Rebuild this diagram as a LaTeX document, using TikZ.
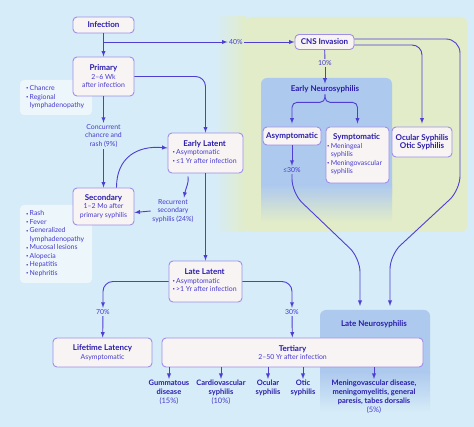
\documentclass[tikz,border=0pt]{standalone}
\usepackage{fontspec}
\setmainfont{Lato}
\definecolor{bgblue}{RGB}{214,236,248}
\definecolor{greenbg}{RGB}{226,236,200}
\definecolor{neuroblue}{RGB}{174,201,238}
\definecolor{boxline}{RGB}{158,142,232}
\definecolor{boxfill}{RGB}{248,244,244}
\definecolor{ttlcol}{RGB}{42,28,172}
\definecolor{txtcol}{RGB}{72,58,205}
\definecolor{linecol}{RGB}{78,62,210}
\newcommand{\itm}{\raisebox{0.25ex}{\scalebox{0.6}{\textbullet}}}
\newcommand{\ttl}[1]{{\fontsize{8}{9.5}\selectfont\bfseries\color{ttlcol}#1}}

\begin{document}
\begin{tikzpicture}[x=1pt, y=-1pt, font=\fontsize{6.9}{8.5}\selectfont, text=txtcol]
\tikzstyle{stage}=[rectangle, rounded corners=4pt, draw=boxline, fill=boxfill, line width=0.9pt, align=center, inner sep=1pt]
\tikzstyle{note}=[rectangle, rounded corners=4pt, fill=white, fill opacity=0.55, text opacity=1, align=left, inner sep=0pt]
\tikzstyle{pct}=[inner sep=1.5pt, align=center]
\tikzstyle{outcome}=[align=center, inner sep=1pt, font=\fontsize{7.5}{9}\selectfont\bfseries, text=ttlcol]
\tikzstyle{conn}=[->, >=latex, draw=linecol, line width=0.9pt]
\tikzstyle{link}=[draw=linecol, line width=0.9pt]

% Draw the background
\useasboundingbox (0,0) rectangle (474,427);
\fill[bgblue] (0,0) rectangle (474,427);
\fill[greenbg, rounded corners=6pt] (245,17) rectangle (467,232);
\shade[left color=bgblue, right color=greenbg] (215,17) rectangle (246,232);
\fill[neuroblue, rounded corners=6pt] (261,78) rectangle (392,200);
\shade[top color=neuroblue, bottom color=greenbg] (261,185) rectangle (392,222);
\fill[neuroblue, rounded corners=6pt] (320,310) rectangle (430,380);
\shade[top color=neuroblue, bottom color=bgblue] (320,372) rectangle (430,412);

% Draw the symptom notes
\node[note, minimum width=72pt, minimum height=35pt] (chancre) at (56,97.5) {
    \begin{tabular}{@{}l@{\,}l@{}}
    \itm & Chancre \\
    \itm & Regional \\
         & lymphadenopathy \\
    \end{tabular}
};
\node[note, minimum width=72pt, minimum height=78pt] (symptoms) at (56,244) {
    \begin{tabular}{@{}l@{\,}l@{}}
    \itm & Rash \\
    \itm & Fever \\
    \itm & Generalized \\
         & lymphadenopathy \\
    \itm & Mucosal lesions \\
    \itm & Alopecia \\
    \itm & Hepatitis \\
    \itm & Nephritis \\
    \end{tabular}
};

% Draw the early stages
\node[stage, minimum width=61pt, minimum height=16pt] (infection) at (103.5,25) {\ttl{Infection}};
\node[stage, minimum width=61pt, minimum height=39pt] (primary) at (103.5,76.5) {\ttl{Primary}\\2--6 Wk\\after infection};
\node[pct] (concurrent) at (103.5,136) {Concurrent\\chancre and\\rash (9\%)};
\node[stage, minimum width=61pt, minimum height=37pt] (secondary) at (103.5,206.5) {\ttl{Secondary}\\1--2 Mo after\\primary syphilis};
\node[stage, minimum width=75pt, minimum height=40pt] (elatent) at (205.5,153) {
    \begin{tabular}{@{}l@{\,}l@{}}
    \multicolumn{2}{c}{\ttl{Early Latent}} \\
    \itm & Asymptomatic \\
    \itm & ≤1 Yr after infection \\
    \end{tabular}
};
\node[pct] (recurrent) at (173,211) {Recurrent\\secondary\\syphilis (24\%)};
\node[stage, minimum width=73pt, minimum height=41pt] (llatent) at (205.5,281.5) {
    \begin{tabular}{@{}l@{\,}l@{}}
    \multicolumn{2}{c}{\ttl{Late Latent}} \\
    \itm & Asymptomatic \\
    \itm & >1 Yr after infection \\
    \end{tabular}
};
\node[pct] (pct70) at (103,312) {70\%};
\node[pct] (pct30) at (292,312) {30\%};
\node[stage, minimum width=99pt, minimum height=29pt] (lifetime) at (102.5,352.5) {\ttl{Lifetime Latency}\\Asymptomatic};
\node[stage, minimum width=261pt, minimum height=29pt] (tertiary) at (292.5,352.5) {\ttl{Tertiary}\\2--50 Yr after infection};

% Draw the CNS branch
\node[pct] (pct40) at (236,42) {40\%};
\node[stage, minimum width=59pt, minimum height=15pt] (cns) at (324.5,42) {\ttl{CNS Invasion}};
\node[pct] (pct10) at (325,63) {10\%};
\node[pct] (eneuro) at (325,89) {\ttl{Early Neurosyphilis}};
\node[stage, minimum width=58pt, minimum height=18pt] (asym) at (292,136) {\ttl{Asymptomatic}};
\node[stage, minimum width=63pt, minimum height=56pt] (sympt) at (357.5,155) {
    \begin{tabular}{@{}l@{\,}l@{}}
    \multicolumn{2}{c}{\ttl{Symptomatic}} \\
    \itm & Meningeal \\
         & syphilis \\
    \itm & Meningovascular \\
         & syphilis \\
    \end{tabular}
};
\node[stage, minimum width=60pt, minimum height=30pt] (ocotic) at (422,142) {\ttl{Ocular Syphilis}\\\ttl{Otic Syphilis}};
\node[pct] (pct30b) at (292,170) {≤30\%};
\node[pct] (lneuro) at (374,324) {\ttl{Late Neurosyphilis}};
\coordinate (lnA) at (360,306);
\coordinate (lnB) at (390,306);

% Draw the connectors
\draw[conn] (infection) -- (primary);
\draw[conn] (infection.south |- pct40.west) -- (pct40.west);
\draw[conn] (pct40.east) -- (cns.west);
\draw[conn] (primary) -- (concurrent);
\draw[conn] (concurrent) -- (secondary);
\draw[conn, rounded corners=10pt] (primary.east) -| (elatent.north);
\draw[conn] ([xshift=13pt]secondary.north) to[out=90, in=175, looseness=1.2] ([yshift=5pt]elatent.west);
\draw[conn, shorten <=3pt] ([xshift=-18pt]elatent.south) to[out=-80, in=80] ([xshift=11pt]recurrent.north);
\draw[conn] (recurrent.west) -- ([yshift=-6pt]secondary.east);
\draw[conn] (elatent) -- (llatent);
\draw[conn, rounded corners=10pt] (llatent.west) -| (pct70.north);
\draw[conn] (pct70) -- (lifetime);
\draw[conn, rounded corners=10pt] (llatent.east) -| (pct30.north);
\draw[conn] (pct30) -- (tertiary);

\draw[link] (cns) -- (pct10);
\draw[conn] (pct10.south) -- (eneuro.north);
\draw[conn, rounded corners=5pt, shorten >=3pt] (eneuro.south) -- ++(0,8) -| (asym.north);
\draw[conn, rounded corners=5pt, shorten >=3pt] (eneuro.south) -- ++(0,8) -| (sympt.north);
\draw[conn, rounded corners=10pt, shorten >=3pt] ([yshift=-3pt]cns.east) -| (ocotic.north);
\draw[conn, rounded corners=14pt] ([yshift=3pt]cns.east) -- (460,39) -- (460,190) -- (390,255) -- (lnB);
\draw[conn] (asym) -- (pct30b);
\draw[conn, rounded corners=14pt] (pct30b.south) -- (292,193) -- (360,258) -- (lnA);

% Draw the tertiary outcomes
\foreach \nm/\x/\txt in {
    gumma/169/{Gummatous\\disease\\{\mdseries\color{txtcol}(15\%)}},
    cardio/221/{Cardiovascular\\syphilis\\{\mdseries\color{txtcol}(10\%)}},
    ocular/268/{Ocular\\syphilis},
    otic/303/{Otic\\syphilis},
    menin/374/{Meningovascular disease,\\meningomyelitis, general\\paresis, tabes dorsalis\\{\mdseries\color{txtcol}(5\%)}}} {
    \node[outcome, anchor=north] (\nm) at (\x,379) {\txt};
    \draw[conn] (\nm.north |- tertiary.south) -- (\nm.north);
}

\end{tikzpicture}
\end{document}
